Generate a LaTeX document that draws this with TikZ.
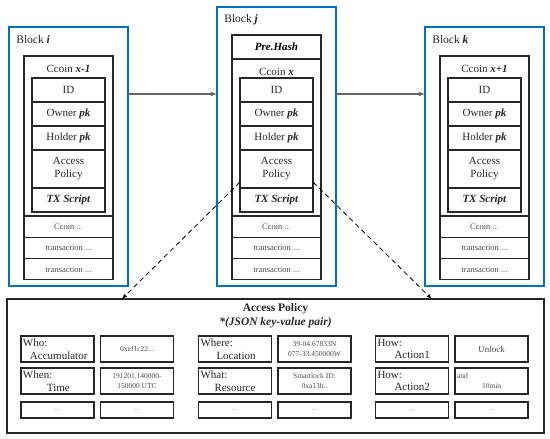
\documentclass[tikz,border=0pt]{standalone}
\usepackage{fontspec}
\setmainfont{Liberation Serif}
\usetikzlibrary{positioning,calc}
\definecolor{blockblue}{RGB}{0,112,192}

\begin{document}
\begin{tikzpicture}[x=1pt, y=-1pt, outer sep=0pt,
  blk/.style = {draw=blockblue, line width=1.7pt, minimum width=119pt, inner sep=0pt},
  coin/.style = {draw=black!85, line width=1.1pt, minimum width=89pt, inner sep=0pt},
  row/.style = {draw=black!85, line width=1.1pt, minimum width=73pt, minimum height=24pt, inner sep=1pt, align=center, text=black!85, font=\fontsize{11}{13}\selectfont},
  txrow/.style = {draw=black!85, line width=1.1pt, minimum width=89pt, minimum height=21.3pt, inner sep=0pt, text=black!70, font=\fontsize{8.5}{9}\selectfont},
  key/.style = {draw=black!85, line width=1.1pt, minimum width=73pt, minimum height=26pt, text width=69pt, inner sep=1.5pt, align=left, text=black!85, font=\fontsize{11}{12.5}\selectfont},
  val/.style = {draw=black!85, line width=1.1pt, minimum width=73pt, minimum height=26pt, inner sep=1.5pt, align=center, text=black!70, font=\fontsize{7.5}{10}\selectfont},
  dots/.style = {draw=black!85, line width=1.1pt, minimum width=73pt, minimum height=16pt, inner sep=0pt, text=black!50, font=\fontsize{7}{8}\selectfont},
  link/.style = {->, >=latex, draw=black!60, line width=1.1pt},
  zoom/.style = {->, >=latex, dash pattern=on 5pt off 3.5pt, line width=0.8pt}]
\useasboundingbox (0,0) rectangle (550,439);

% the three blocks
\foreach \b/\c/\t/\ct/\lab in {i/68.5/27/56/{x-1}, j/276.5/7/59/{x}, k/484.5/27/56/{x+1}} {
  \node[blk, anchor=north, minimum height={286-\t}] (block\b) at (\c,\t) {};
  \node[anchor=west, text=black!85, font=\fontsize{11.5}{12}\selectfont] (lab\b) at ([xshift=4pt, yshift=-13pt]block\b.north west) {Block \textbf{\textit{\b}}};
  \node[coin, anchor=north, minimum height={216-\ct}] (coin\b) at (\c,\ct) {};
  \node[text=black!85, font=\fontsize{11}{12}\selectfont] (ct\b) at (\c,{\ct+12.5}) {Ccoin \textbf{\textit{\lab}}};
  \node[row, anchor=north] (id\b) at (\c,78) {ID};
  \node[row, below=0pt of id\b] (own\b) {Owner \textbf{\textit{pk}}};
  \node[row, below=0pt of own\b] (hold\b) {Holder \textbf{\textit{pk}}};
  \node[row, minimum height=38pt, below=0pt of hold\b] (ap\b) {Access\\Policy};
  \node[row, below=0pt of ap\b] (tx\b) {\textbf{\textit{TX Script}}};
  \node[txrow, below=0pt of coin\b] (cc\b) {Ccoin ...};
  \node[txrow, below=0pt of cc\b] (tra\b) {transaction ...};
  \node[txrow, below=0pt of tra\b] (trb\b) {transaction ...};
}
\node[coin, minimum height=24pt, anchor=south, font=\fontsize{11}{12}\selectfont] (prehash) at (coinj.north) {\textbf{\textit{Pre.Hash}}};

\coordinate (lnk) at (0,94);
\draw[link] (blocki.east |- lnk) -- (blockj.west |- lnk);
\draw[link] (blockj.east |- lnk) -- (blockk.west |- lnk);

% access policy
\node[draw=black!85, line width=1.2pt, minimum width=537pt, minimum height=134pt] (policy) at (275.5,366) {};
\node[text=black!85, font=\bfseries\fontsize{11.5}{12}\selectfont] (ptitle) at (275.5,309) {Access Policy};
\node[text=black!85, font=\bfseries\itshape\fontsize{11.5}{12}\selectfont] (psub) at (275.5,323) {*(JSON key-value pair)};

\node[key] (who) at (57.5,349) {Who:\\\hspace*{7pt}Accumulator};
\node[val] (whov) at (137,349) {0xef1c22...};
\node[key] (when) at (57.5,381) {When:\\\hspace*{24pt}Time};
\node[val] (whenv) at (137,381) {191201.140000-\\150000 UTC};
\node[key] (where) at (235,349) {Where:\\\hspace*{16pt}Location};
\node[val] (wherev) at (314.5,349) {39-04.67833N\\077-33.450000W};
\node[key] (what) at (235,381) {What:\\\hspace*{14pt}Resource};
\node[val] (whatv) at (314.5,381) {Smartlock ID:\\0xa13b..};
\node[key] (howa) at (412,349) {How:\\\hspace*{17pt}Action1};
\node[val, font=\fontsize{9}{10}\selectfont] (howav) at (491.5,349) {Unlock};
\node[key] (howb) at (412,381) {How:\\\hspace*{17pt}Action2};
\node[val, align=left, text width=69pt] (howbv) at (491.5,381) {and\\\hspace*{25pt}10min};
\foreach \c [count=\n] in {57.5,137,235,314.5,412,491.5}
  \node[dots] (dot\n) at (\c,410) {...};

\draw[zoom] ([yshift=6pt]apj.south west) -- ($(policy.north west)!0.214!(policy.north east)$);
\draw[zoom] ([yshift=6pt]apj.south east) -- ($(policy.north west)!0.791!(policy.north east)$);
\end{tikzpicture}
\end{document}
